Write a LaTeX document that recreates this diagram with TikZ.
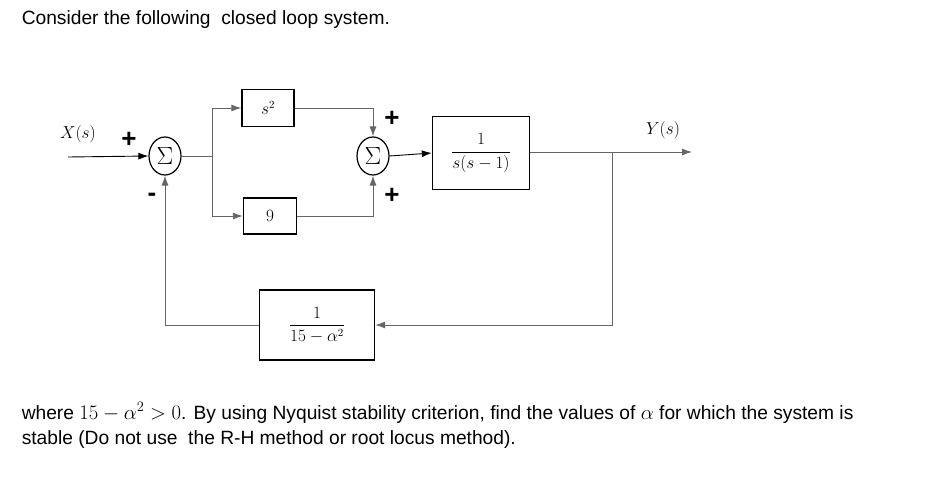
\documentclass[tikz,border=0pt]{standalone}
\usepackage{amsmath}
\usepackage{fontspec}
\setmainfont{Liberation Sans}
\usetikzlibrary{shapes.geometric,arrows.meta}
\begin{document}
\begin{tikzpicture}[x=1pt,y=-1pt,>={Latex[length=10pt,width=7pt]},
  line width=0.9pt,
  every node/.style={font=\fontsize{16}{19}\selectfont},
  blk/.style={draw,line width=1.4pt,minimum width=#1,inner sep=0pt},
  summ/.style={draw,ellipse,line width=1.2pt,minimum width=32pt,minimum height=38pt,inner sep=0pt,font=\fontsize{26}{28}\selectfont},
  sgn/.style={font=\bfseries\fontsize{26}{28}\selectfont},
  txt/.style={anchor=west,font=\fontsize{19.2}{22}\selectfont},
  wire/.style={draw=gray!80!black}]
\useasboundingbox (0,0) rectangle (929,498);
\node[txt] (title) at (18,20) {Consider the following\ \ closed loop system.};
% The junctions and blocks
\node[summ] (s1) at (165,156) {$\Sigma$};
\node[summ] (s2) at (373,156) {$\Sigma$};
\node[blk=52pt,minimum height=37pt] (gsq) at (268,108) {$s^2$};
\node[blk=53pt,minimum height=36pt] (gnine) at (270,216) {$9$};
\node[blk=97pt,minimum height=73pt] (plant) at (481,153) {$\dfrac{1}{s(s-1)}$};
\node[blk=115pt,minimum height=70pt] (fb) at (317,325) {$\dfrac{1}{15-\alpha^2}$};
% Input and output
\coordinate (xin) at (68,157);
\coordinate (yout) at (692,152);
\coordinate (split) at (212,156);
\coordinate (tap) at (612,152);
\node (xl) at (78,134) {$X(s)$};
\node (yl) at (663,130) {$Y(s)$};
\draw[->] (xin) -- (s1.west);
\draw[wire] (s1.east) -- (split);
\draw[wire,->] (split) |- (gsq.west);
\draw[wire,->] (split) |- (gnine.west);
\draw[wire,->] (gsq.east) -| (s2.north);
\draw[wire,->] (gnine.east) -| (s2.south);
\draw[->] (s2.east) -- (plant.west);
\draw[wire,->] (plant.east |- yout) -- (yout);
\draw[wire,->] (tap) |- (fb.east);
\draw[wire,->] (fb.west) -| (s1.south);
% Signs
\node[sgn] (p1) at (129,140) {+};
\node[sgn] (m1) at (152,197) {-};
\node[sgn] (p2) at (392,119) {+};
\node[sgn] (p3) at (392,196) {+};
% Question text
\node[txt] (q1) at (18,413) {where $15-\alpha^2>0$. By using Nyquist stability criterion, find the values of $\alpha$ for which the system is};
\node[txt] (q2) at (18,440) {stable (Do not use\ \ the R-H method or root locus method).};
\end{tikzpicture}
\end{document}
